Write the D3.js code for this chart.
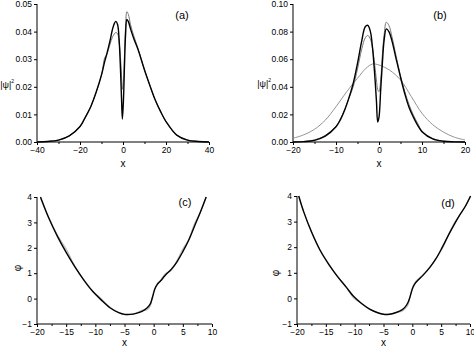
<!DOCTYPE html>
<html><head><meta charset="utf-8">
<script src="https://cdn.jsdelivr.net/npm/d3@7"></script>
<style>
html,body{margin:0;padding:0;background:#fff;overflow:hidden}
text{font-family:"Liberation Sans",Arial,sans-serif;fill:#000}
</style></head>
<body>
<svg id="c" width="474" height="349"></svg>
<script>
// ---- Panel (a) data ----
const xA = [-40,-35,-30,-25,-20,-17.5,-15,-12.5,-10,-8.5,-7.5,-6,-5,-4,-3.3,-2.5,-1.8,-1.2,-0.7,-0.3,0.2,0.7,1.2,1.8,2.5,3.5,5,7,10,12.5,15,17.5,20,25,30,35,40];
const aBlack = [0,0.0002,0.0007,0.0022,0.0056,0.009,0.0128,0.018,0.0243,0.0292,0.032,0.0368,0.0405,0.0430,0.0437,0.0425,0.037,0.027,0.016,0.0083,0.015,0.028,0.039,0.0444,0.0436,0.041,0.0375,0.0335,0.0261,0.0205,0.0152,0.011,0.0074,0.0025,0.0007,0.0002,0];
const aGray  = [0,0.0002,0.0007,0.0022,0.0056,0.009,0.0128,0.018,0.0243,0.0305,0.0318,0.0355,0.0378,0.0392,0.0397,0.0392,0.036,0.031,0.024,0.0191,0.022,0.032,0.042,0.0472,0.0462,0.0425,0.0385,0.0338,0.0261,0.0205,0.0152,0.011,0.0074,0.0025,0.0007,0.0002,0];
const aXTicks = [-40,-20,0,20,40];
const aYTicks = [0,0.01,0.02,0.03,0.04,0.05];

// ---- Panel (b) data ----
const xB = [-20,-17.5,-15,-12.5,-10,-9,-8,-7,-6,-5,-4,-3.2,-2.6,-2,-1.5,-1,-0.6,-0.3,0,0.4,0.8,1.2,1.7,2.3,3,4,5,6,7,8,9,10,12.5,15,17.5,20];
const bBlack = [0,0.0003,0.0012,0.0042,0.011,0.016,0.023,0.032,0.0425,0.057,0.0735,0.0835,0.0845,0.080,0.068,0.049,0.030,0.0145,0.018,0.038,0.058,0.074,0.082,0.080,0.0735,0.060,0.047,0.035,0.025,0.018,0.012,0.0075,0.0022,0.0005,0.0001,0];
const bGray  = [0,0.0004,0.0015,0.0048,0.0115,0.0165,0.0235,0.0315,0.040,0.053,0.0675,0.0755,0.0772,0.0745,0.068,0.056,0.045,0.038,0.0365,0.045,0.064,0.078,0.0868,0.0845,0.0765,0.062,0.048,0.0365,0.027,0.0195,0.0135,0.008,0.0025,0.0006,0.0002,0];
const xBG = [-20,-17.5,-15,-12.5,-10,-7.5,-5,-3,-1.5,0,2.5,5,7.5,10,12.5,15,17.5,20];
const bWide = [0.0027,0.0052,0.0092,0.0158,0.0256,0.0365,0.0462,0.0535,0.0565,0.0558,0.052,0.045,0.033,0.0208,0.0125,0.0072,0.0035,0.0015];
const bXTicks = [-20,-10,0,10,20];
const bYTicks = [0,0.02,0.04,0.06,0.08,0.10];

// ---- Panel (c) data ----
const xC = [-19.4,-18,-16.5,-15,-13.5,-12,-10.5,-9,-7.5,-6,-5,-4,-3,-2,-1.2,-0.6,-0.2,0.2,0.6,1.2,2,3,4,5,6,7,8,9];
const cBlack = [4.0,3.18,2.45,1.82,1.25,0.74,0.3,-0.05,-0.36,-0.55,-0.62,-0.62,-0.58,-0.5,-0.38,-0.22,0.05,0.38,0.55,0.7,0.92,1.15,1.45,1.85,2.3,2.85,3.4,4.0];
const cGray  = [3.95,3.2,2.5,1.95,1.27,0.76,0.3,0.0,-0.34,-0.55,-0.62,-0.62,-0.57,-0.46,-0.45,-0.3,0.1,0.4,0.58,0.72,0.98,1.1,1.5,1.95,2.32,2.95,3.4,4.0];
const cdXTicks = [-20,-15,-10,-5,0,5,10];
const cdYTicks = [-1,0,1,2,3,4];

// ---- Panel (d) data ----
const xD = [-19.7,-18.85,-17.5,-16,-14.5,-13.1,-11.5,-10.2,-8.8,-7.4,-6,-5,-4,-2.8,-1.8,-1.3,-0.75,-0.35,0,0.4,1,1.8,3,4.1,5.2,6.4,7.3,8.2,9.2,10.1];
const dBlack = [4.0,3.39,2.6,1.88,1.33,0.89,0.45,0.08,-0.2,-0.42,-0.56,-0.62,-0.62,-0.55,-0.45,-0.35,-0.16,0.1,0.37,0.56,0.72,0.89,1.2,1.55,2.0,2.53,2.9,3.25,3.6,4.0];
const dGray  = [4.0,3.4,2.62,1.9,1.36,0.9,0.45,0.02,-0.2,-0.43,-0.56,-0.62,-0.62,-0.55,-0.5,-0.42,-0.25,0.12,0.4,0.6,0.75,0.92,1.2,1.55,1.95,2.55,2.95,3.25,3.62,4.0];

const svg = d3.select("#c");

function panel(o){
  const x = d3.scaleLinear().domain(o.xd).range(o.xr);
  const y = d3.scaleLinear().domain(o.yd).range(o.yr);
  const g = svg.append("g");
  g.append("g").attr("transform",`translate(0,${o.yr[0]})`)
    .call(d3.axisBottom(x).tickValues(o.xMinor).tickSize(2).tickFormat(""))
    .call(s=>{s.select(".domain").remove(); s.selectAll("line").attr("stroke","#000");});
  g.append("g").attr("transform",`translate(0,${o.yr[0]})`)
    .call(d3.axisBottom(x).tickValues(o.xt).tickSize(3).tickPadding(2).tickFormat(d3.format("d")))
    .call(s=>{s.select(".domain").attr("stroke","#000").attr("d",`M${o.xr[0]},0H${o.xr[1]}`);
      s.selectAll("line").attr("stroke","#000");
      s.selectAll("text").attr("font-size","8.5px").attr("font-family","Liberation Sans, Arial, sans-serif");});
  g.append("g").attr("transform",`translate(${o.xr[0]},0)`)
    .call(d3.axisLeft(y).tickValues(o.yt).tickSize(3).tickPadding(2).tickFormat(o.yf))
    .call(s=>{s.select(".domain").attr("stroke","#000").attr("d",`M0,${o.yr[0]}V${o.yr[1]}`);
      s.selectAll("line").attr("stroke","#000");
      s.selectAll("text").attr("font-size","8.5px").attr("font-family","Liberation Sans, Arial, sans-serif");});
  const line = d3.line().x(d=>x(d[0])).y(d=>y(d[1])).curve(d3.curveCatmullRom.alpha(0.5));
  o.series.forEach(sr=>{
    g.append("path").datum(sr.xs.map((v,i)=>[v,sr.ys[i]]))
      .attr("d",line).attr("fill","none").attr("stroke",sr.c).attr("stroke-width",sr.w)
      .attr("stroke-linejoin","round");
  });
  g.append("text").attr("x",o.lab[0]).attr("y",o.lab[1]).attr("text-anchor","middle")
    .attr("font-size","11px").text(o.name);
  g.append("text").attr("x",(o.xr[0]+o.xr[1])/2).attr("y",o.xty).attr("text-anchor","middle")
    .attr("font-size","10px").text("x");
  return {x,y,g};
}

panel({xd:[-40,40],xr:[37,209],yd:[0,0.05],yr:[142,4],xt:aXTicks,yt:aYTicks,
  xMinor:[-30,-10,10,30],yf:d3.format(".2f"),lab:[182,19],name:"(a)",xty:167,
  series:[{xs:xA,ys:aGray,c:"#777",w:1},{xs:xA,ys:aBlack,c:"#000",w:1.4}]});
panel({xd:[-20,20],xr:[293,465],yd:[0,0.10],yr:[142,4],xt:bXTicks,yt:bYTicks,
  xMinor:[-15,-5,5,15],yf:d3.format(".2f"),lab:[440,19],name:"(b)",xty:167,
  series:[{xs:xBG,ys:bWide,c:"#888",w:0.9},{xs:xB,ys:bGray,c:"#777",w:1},{xs:xB,ys:bBlack,c:"#000",w:1.4}]});
panel({xd:[-20,10],xr:[37,212],yd:[-1,4],yr:[324,197],xt:cdXTicks,yt:cdYTicks,
  xMinor:[-17.5,-12.5,-7.5,-2.5,2.5,7.5],yf:d3.format("d"),lab:[185,206],name:"(c)",xty:346,
  series:[{xs:xC,ys:cGray,c:"#bbb",w:1.2},{xs:xC,ys:cBlack,c:"#000",w:1.4}]});
panel({xd:[-20,10],xr:[297,470],yd:[-1,4],yr:[324,196],xt:cdXTicks,yt:cdYTicks,
  xMinor:[-17.5,-12.5,-7.5,-2.5,2.5,7.5],yf:d3.format("d"),lab:[448,207],name:"(d)",xty:346,
  series:[{xs:xD,ys:dGray,c:"#bbb",w:1.2},{xs:xD,ys:dBlack,c:"#000",w:1.4}]});

function psi(xe,yb){
  const t = svg.append("text").attr("x",xe).attr("y",yb).attr("text-anchor","end").attr("font-size","9px");
  t.append("tspan").text("|ψ|");
  t.append("tspan").attr("font-size","5px").attr("dy","-5").text("2");
}
psi(14,88);
psi(271,87);
svg.append("text").attr("transform","translate(21,268) rotate(-90)").attr("text-anchor","middle")
  .attr("font-size","10px").text("φ");
svg.append("text").attr("transform","translate(279,273) rotate(-90)").attr("text-anchor","middle")
  .attr("font-size","10px").text("φ");
</script>
</body></html>
